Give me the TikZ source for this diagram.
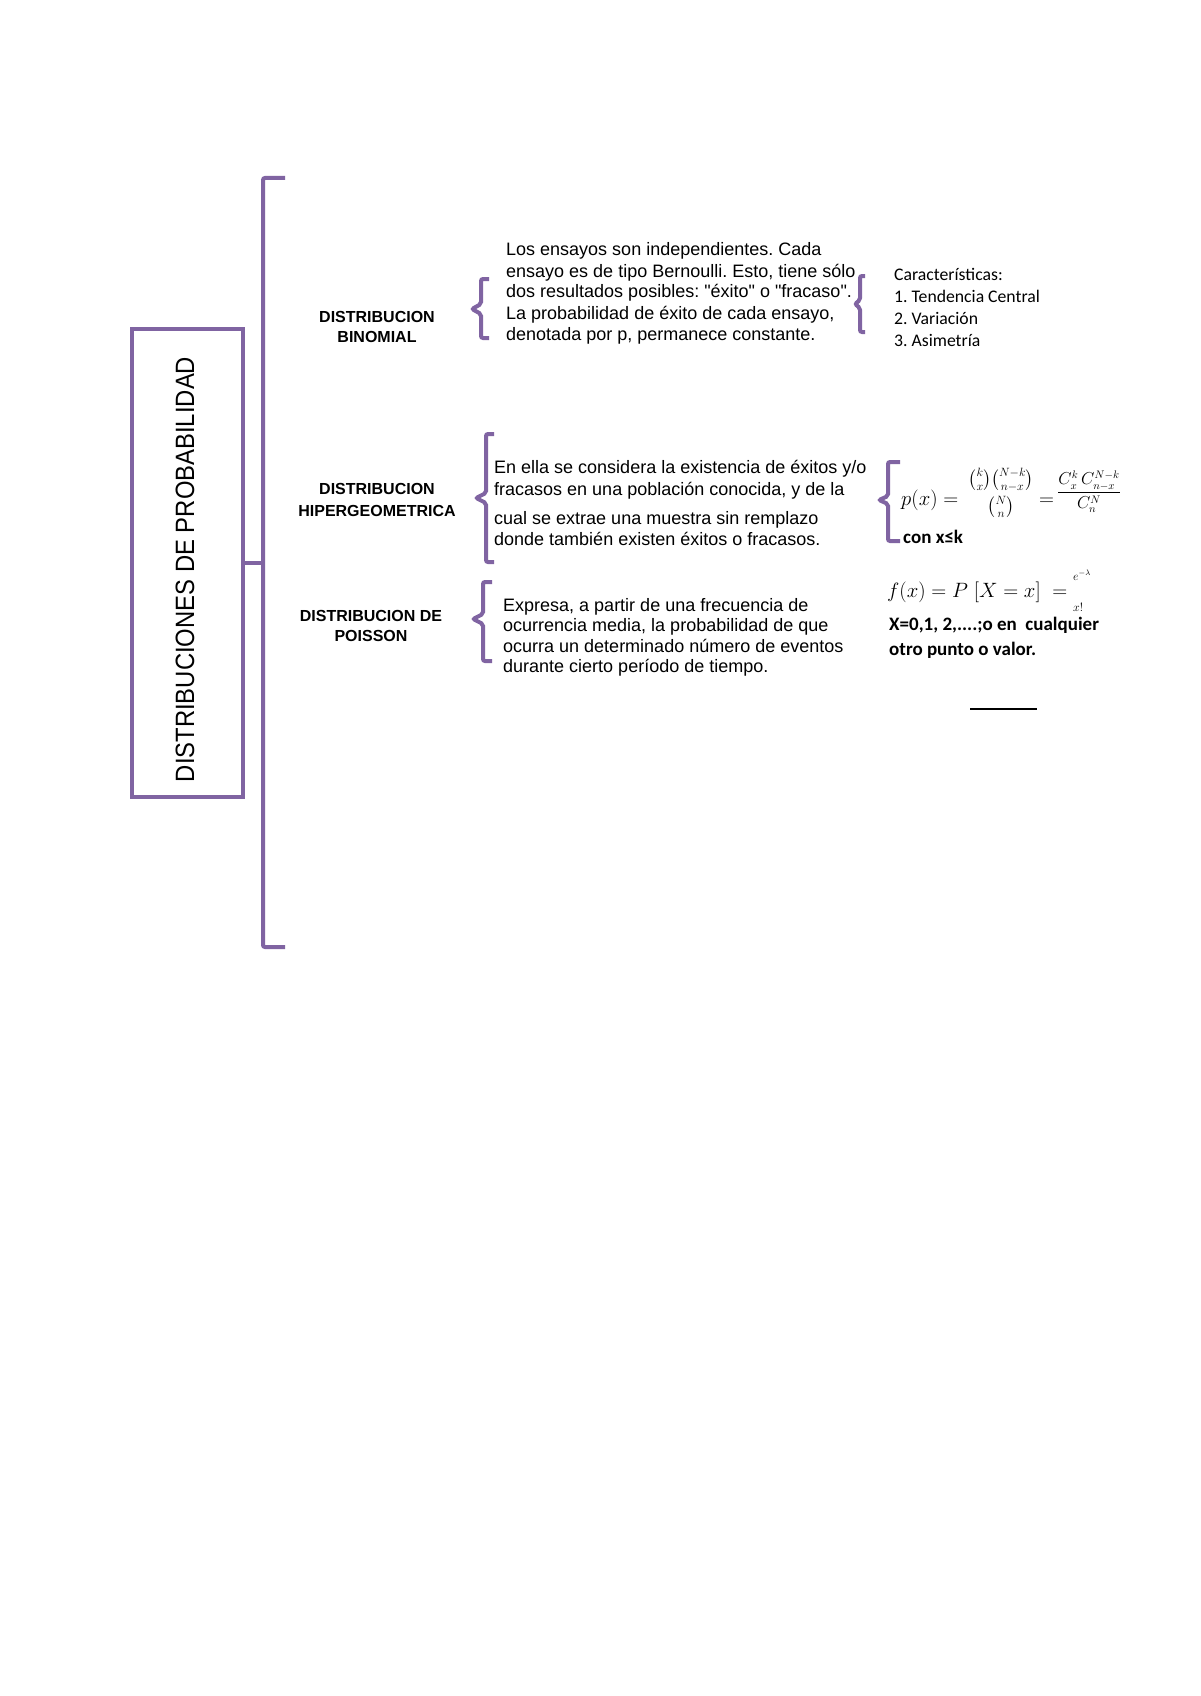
\documentclass[tikz,border=0pt]{standalone}
\usepackage{fontspec}
\usepackage{amsmath}
\setmainfont{Liberation Sans}
\newfontfamily\calibri{Carlito}
\definecolor{purp}{HTML}{8064A2}
\frenchspacing
\begin{document}
\begin{tikzpicture}[x=1pt,y=-1pt,
  purpline/.style={draw=purp,line width=4pt,rounded corners=2pt},
  lbl/.style={font=\bfseries\fontsize{16}{18}\selectfont,anchor=base,inner sep=0pt},
  body/.style={font=\fontsize{18}{20}\selectfont,anchor=base west,inner sep=0pt},
  cal/.style={font=\calibri\fontsize{17.7}{20}\selectfont,anchor=base west,inner sep=0pt},
  calb/.style={font=\calibri\bfseries\fontsize{19}{21}\selectfont,anchor=base west,inner sep=0pt},
  mth/.style={inner sep=0pt}]
\useasboundingbox (0,0) rectangle (1200,1696);
\fill[white] (0,0) rectangle (1200,1696);

% main box and title
\node[draw=purp,line width=4pt,minimum width=111pt,minimum height=468pt,inner sep=0pt] (box) at (187.5,563) {};
\node[rotate=90,font=\fontsize{26.5}{30}\selectfont,inner sep=0pt] (title) at (185,569.5) {\scalebox{0.9}[1]{DISTRIBUCIONES DE PROBABILIDAD}};

% big bracket
\coordinate (bk) at (263,563);
\draw[purpline] (285,178) -- (263,178) -- (263,947) -- (285,947);
\draw[draw=purp,line width=4pt] (box.east) -- (bk);

% labels
\node[lbl] (bin1) at (377,322) {DISTRIBUCION};
\node[lbl] (bin2) at (377,342) {BINOMIAL};
\node[lbl] (hip1) at (377,494) {DISTRIBUCION};
\node[lbl] (hip2) at (377,516) {HIPERGEOMETRICA};
\node[lbl] (poi1) at (371,621) {DISTRIBUCION DE};
\node[lbl] (poi2) at (371,641) {POISSON};

% braces
\draw[purpline] (489,279) -- (481,279) -- (481,304) -- (472,309) -- (481,314) -- (481,338) -- (489,338);
\draw[purpline] (494,434) -- (486,434) -- (486,493) -- (476,498) -- (486,503) -- (486,562) -- (494,562);
\draw[purpline] (492,582) -- (483,582) -- (483,614) -- (473,619) -- (483,624) -- (483,661) -- (492,661);
\draw[purpline] (865,276) -- (860,276) -- (860,300) -- (855,304) -- (860,308) -- (860,332) -- (865,332);
\draw[purpline] (900,462) -- (888,462) -- (888,496) -- (879,500) -- (888,504) -- (888,541) -- (900,541);

% binomial text
\node[body] (b1) at (506,256) {Los ensayos son independientes. Cada};
\node[body] (b2) at (506,277) {ensayo es de tipo Bernoulli. Esto, tiene sólo};
\node[body] (b3) at (506,298) {dos resultados posibles: \textquotedbl éxito\textquotedbl{} o \textquotedbl fracaso\textquotedbl .};
\node[body] (b4) at (506,319) {La probabilidad de éxito de cada ensayo,};
\node[body] (b5) at (506,340) {denotada por p, permanece constante.};

% caracteristicas
\node[cal] (c0) at (894,280) {Características:};
\node[cal] (c1) at (894,302) {1. Tendencia Central};
\node[cal] (c2) at (894,324) {2. Variación};
\node[cal] (c3) at (894,346) {3. Asimetría};

% hipergeometrica text
\node[body] (h1) at (494,473) {En ella se considera la existencia de éxitos y/o};
\node[body] (h2) at (494,495) {fracasos en una población conocida, y de la};
\node[body] (h3) at (494,524) {cual se extrae una muestra sin remplazo};
\node[body] (h4) at (494,545) {donde también existen éxitos o fracasos.};

% hipergeometrica formula
\node[mth,anchor=base west,font=\fontsize{21}{24}\selectfont] (px) at (901,505) {$p(x) =$};
\node[mth,font=\fontsize{17}{19}\selectfont] (fr1) at (1001,493) {$\displaystyle\genfrac{}{}{0pt}{}{\binom{k}{x}\binom{N-k}{n-x}}{\binom{N}{n}}$};
\node[mth,anchor=base west,font=\fontsize{21}{24}\selectfont] (eq2) at (1039,505) {$=$};
\node[mth,font=\fontsize{16}{18}\selectfont] (fr2) at (1089,492) {$\displaystyle\frac{C_x^k\,C_{n-x}^{N-k}}{C_n^N}$};
\node[calb] (con) at (903,543) {con x≤k};

% poisson text
\node[body] (p1) at (503,611) {Expresa, a partir de una frecuencia de};
\node[body] (p2) at (503,631) {ocurrencia media, la probabilidad de que};
\node[body] (p3) at (503,652) {ocurra un determinado número de eventos};
\node[body] (p4) at (503,672) {durante cierto período de tiempo.};

% poisson formula
\node[mth,anchor=base west,font=\fontsize{21}{24}\selectfont] (fx) at (887,597) {$f(x) = P\ [X = x]\ =$};
\node[mth,anchor=base west,font=\fontsize{12}{14}\selectfont] (lam) at (1073,580) {$e^{-\lambda}$};
\node[mth,anchor=base west,font=\fontsize{12}{14}\selectfont] (xf) at (1073,611) {$x!$};
\node[calb] (xv) at (889,630) {X=0,1, 2,....;o en\ \ cualquier};
\node[calb] (ot) at (889,655) {otro punto o valor.};
\draw[line width=2.5pt] (970,709) -- (1037,709);
\end{tikzpicture}
\end{document}
